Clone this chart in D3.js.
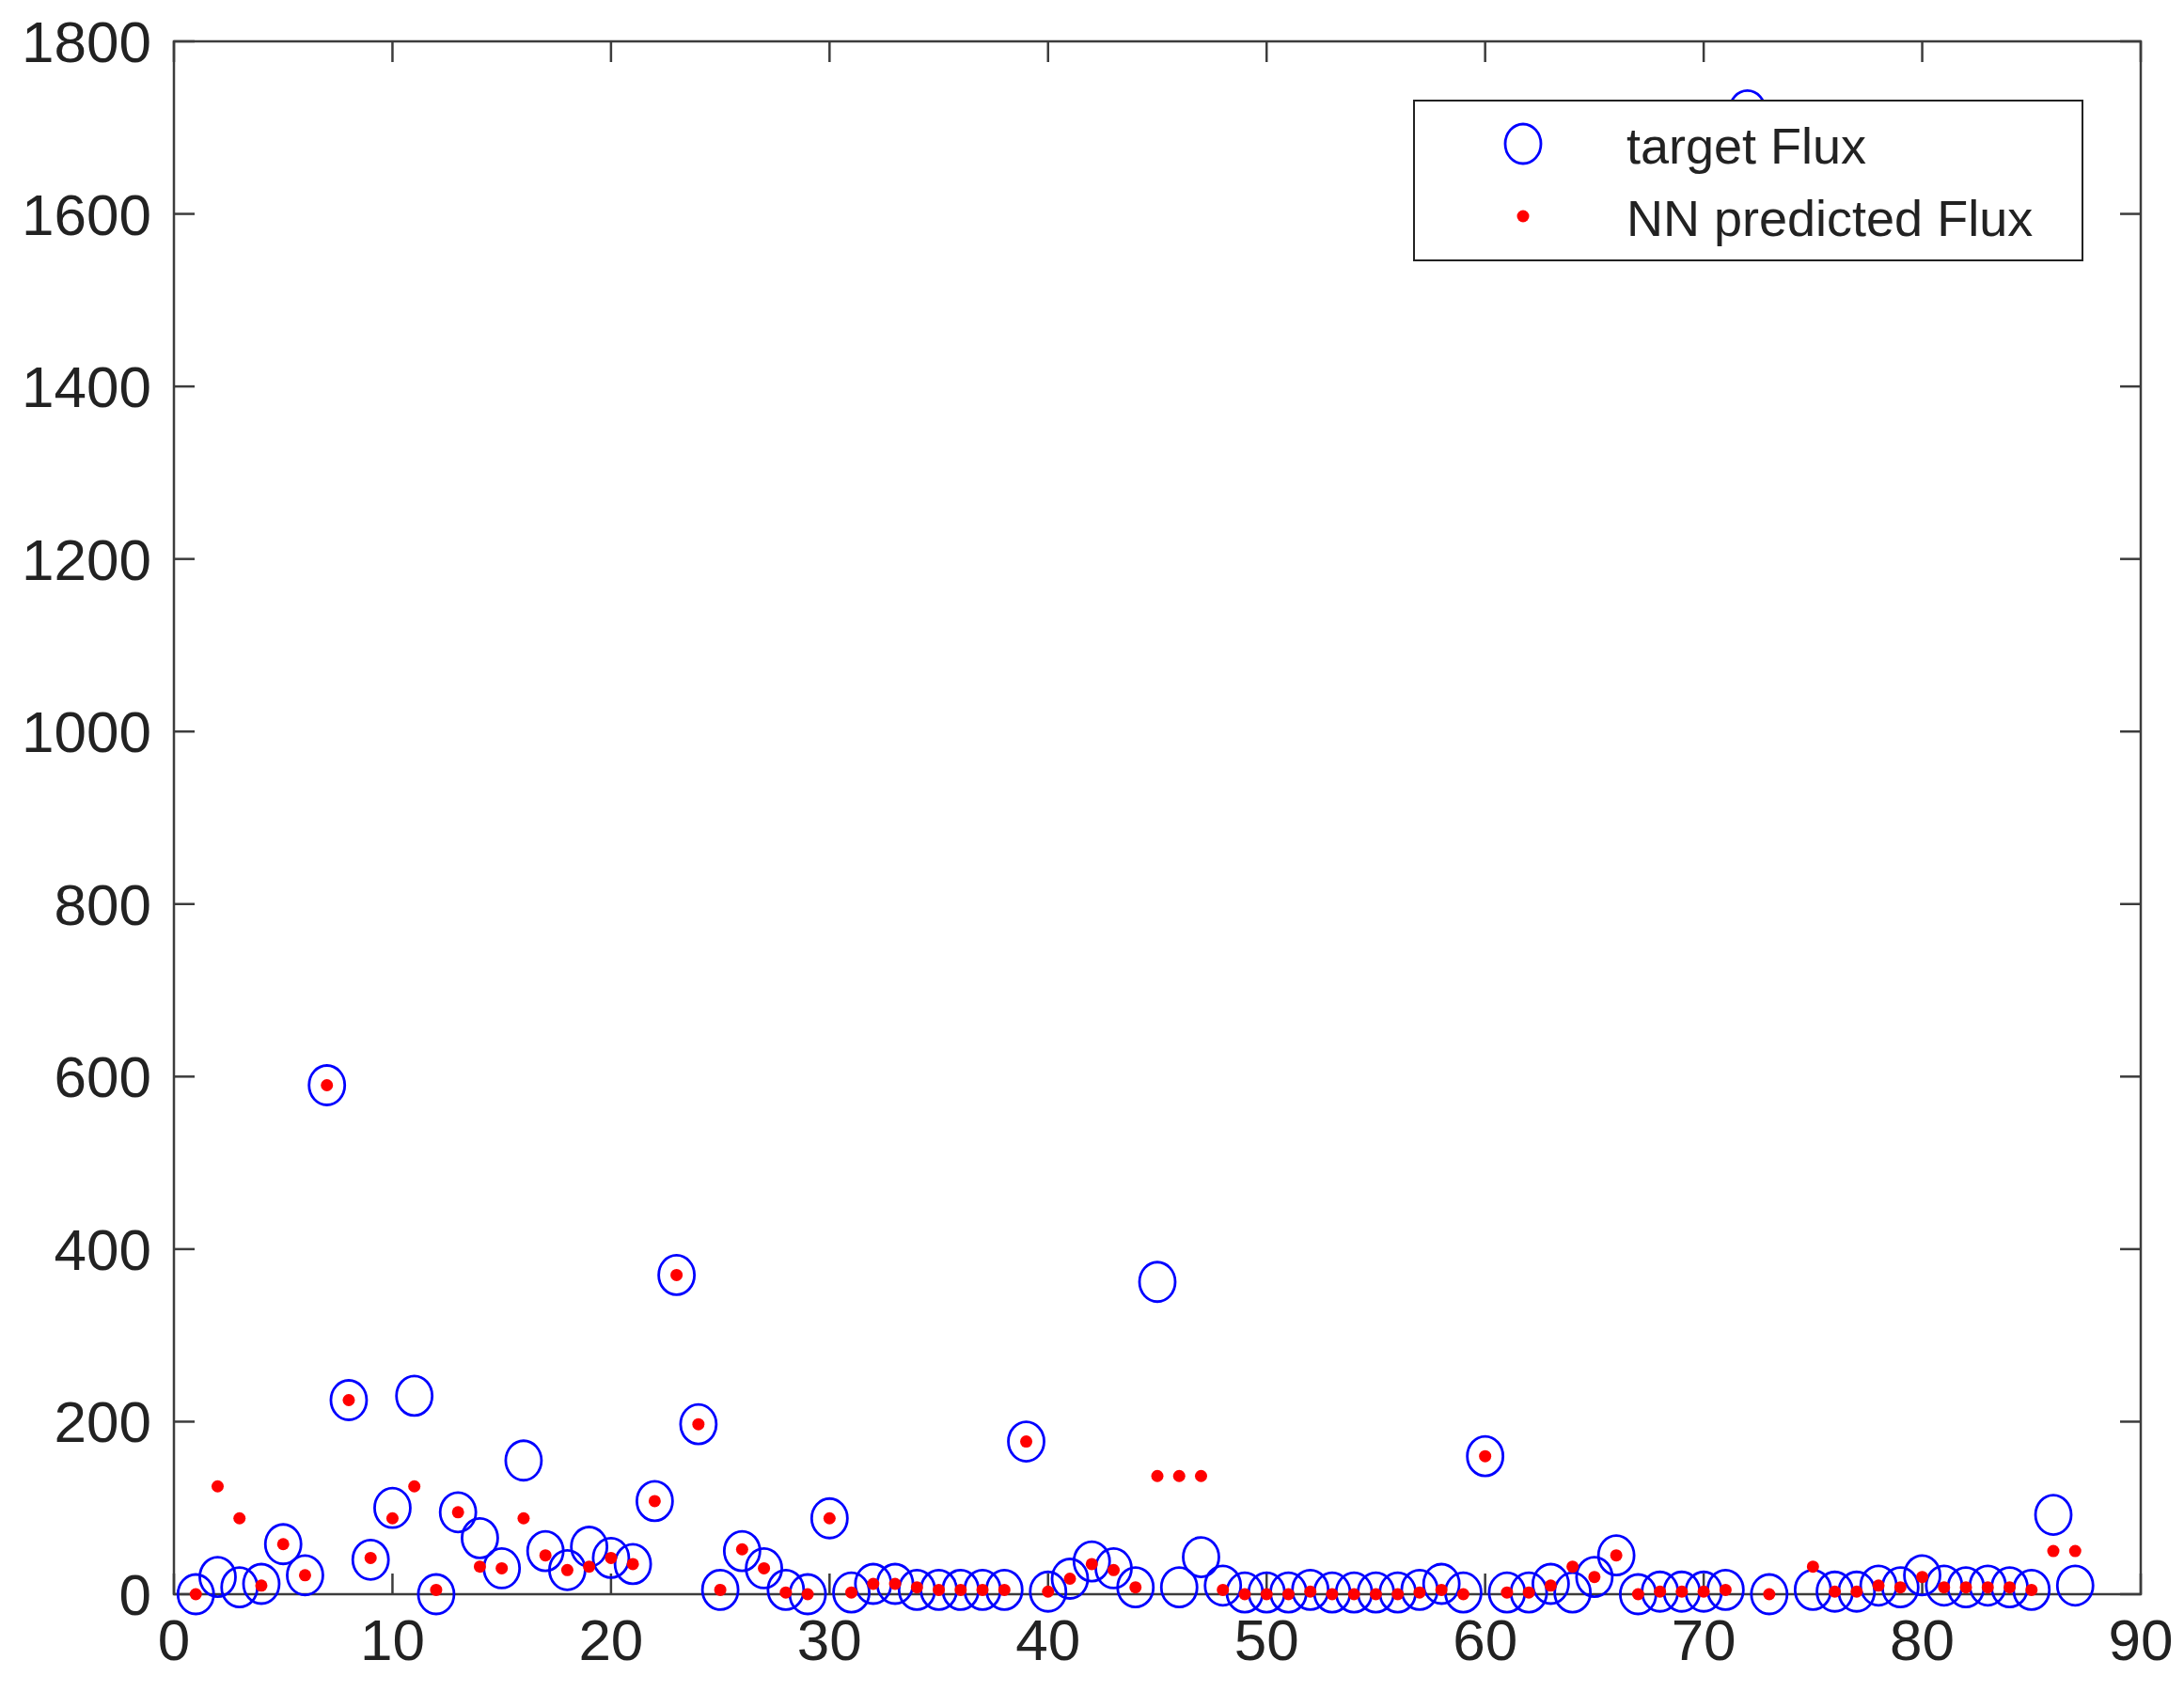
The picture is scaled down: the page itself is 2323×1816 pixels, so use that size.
<!DOCTYPE html>
<html><head><meta charset="utf-8">
<script src="https://cdn.jsdelivr.net/npm/d3@7"></script>
<style>body{margin:0;background:#fff}</style></head>
<body><svg id="c" width="2323" height="1816"></svg>
<script>
const target = [0,20,8,12,58,22,590,225,40,100,230,0,95,65,30,155,50,28,55,42,35,108,370,197,5,50,30,5,0,88,2,12,12,5,5,5,5,5,177,3,18,38,30,8,362,8,43,10,2,2,2,5,2,2,2,2,5,12,2,160,2,2,12,2,20,45,0,3,3,3,5,1720,0,null,5,3,3,10,8,22,10,8,10,8,5,92,10];
const predicted = [0,125,88,10,58,22,590,225,42,88,125,5,95,32,30,88,45,28,32,42,35,108,370,197,5,52,30,2,0,88,2,12,12,8,5,5,5,5,177,3,18,35,28,8,137,137,137,5,0,0,0,3,0,0,0,0,2,5,0,160,2,2,10,32,20,45,0,3,3,3,5,1690,0,null,32,3,3,10,8,20,8,8,8,8,5,50,50];
const xTicks = [0,10,20,30,40,50,60,70,80,90];
const yTicks = [0,200,400,600,800,1000,1200,1400,1600,1800];
const legendLabels = ["target Flux","NN predicted Flux"];

const svg = d3.select("#c");
const L=185,R=2277,T=44,B=1696;
const x = d3.scaleLinear().domain([0,90]).range([L,R]);
const y = d3.scaleLinear().domain([0,1800]).range([B,T]);
const font = "Liberation Sans, Arial, sans-serif";
const ax = "#3c3c3c";

const g = svg.append("g");
g.append("rect").attr("x",L).attr("y",T).attr("width",R-L).attr("height",B-T).attr("fill","none").attr("stroke",ax).attr("stroke-width",2.5);
const tl=22;
xTicks.forEach(t=>{
  g.append("line").attr("x1",x(t)).attr("x2",x(t)).attr("y1",B).attr("y2",B-tl).attr("stroke",ax).attr("stroke-width",2.5);
  g.append("line").attr("x1",x(t)).attr("x2",x(t)).attr("y1",T).attr("y2",T+tl).attr("stroke",ax).attr("stroke-width",2.5);
  g.append("text").attr("x",x(t)).attr("y",B+70).attr("text-anchor","middle").attr("font-family",font).attr("font-size",62).attr("fill","#222").text(t);
});
yTicks.forEach(t=>{
  g.append("line").attr("x1",L).attr("x2",L+tl).attr("y1",y(t)).attr("y2",y(t)).attr("stroke",ax).attr("stroke-width",2.5);
  g.append("line").attr("x1",R).attr("x2",R-tl).attr("y1",y(t)).attr("y2",y(t)).attr("stroke",ax).attr("stroke-width",2.5);
  g.append("text").attr("x",L-24).attr("y",y(t)+22).attr("text-anchor","end").attr("font-family",font).attr("font-size",62).attr("fill","#222").text(t);
});

const tdata = target.map((v,i)=>({i:i+1,v})).filter(d=>d.v!==null);
const pdata = predicted.map((v,i)=>({i:i+1,v})).filter(d=>d.v!==null);
g.selectAll(".t").data(tdata).join("ellipse").attr("cx",d=>x(d.i)).attr("cy",d=>y(d.v)).attr("rx",19).attr("ry",21).attr("fill","none").attr("stroke","#0000ff").attr("stroke-width",2.8);
g.selectAll(".p").data(pdata).join("circle").attr("cx",d=>x(d.i)).attr("cy",d=>y(d.v)).attr("r",6.5).attr("fill","#ff0000");

const lg = svg.append("g");
lg.append("rect").attr("x",1504).attr("y",107).attr("width",711).attr("height",170).attr("fill","#fff").attr("stroke","#222").attr("stroke-width",2);
lg.append("ellipse").attr("cx",1620).attr("cy",153).attr("rx",19).attr("ry",21).attr("fill","none").attr("stroke","#0000ff").attr("stroke-width",2.8);
lg.append("circle").attr("cx",1620).attr("cy",230).attr("r",6.5).attr("fill","#ff0000");
legendLabels.forEach((s,k)=>lg.append("text").attr("x",1730).attr("y",174+k*77).attr("font-family",font).attr("font-size",54).attr("fill","#222").text(s));
</script></body></html>
